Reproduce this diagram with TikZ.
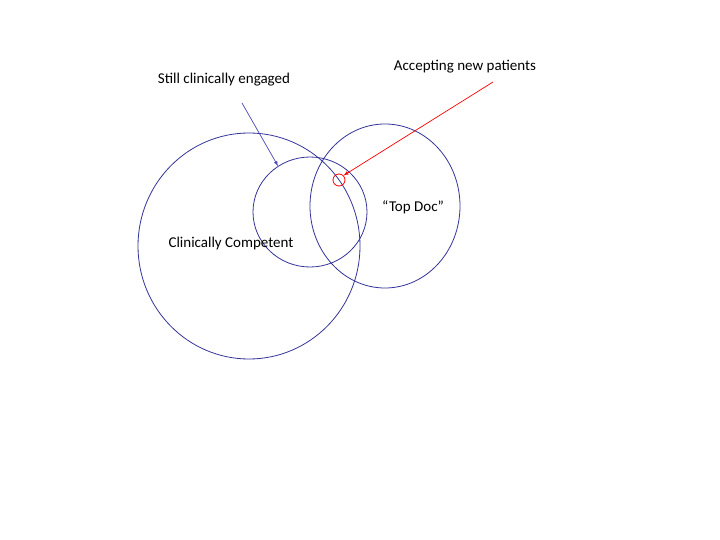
\documentclass[tikz,border=0pt]{standalone}
\usepackage{fontspec}
\setmainfont{Carlito}
\usetikzlibrary{shapes.geometric}
\begin{document}
\begin{tikzpicture}[x=1pt,y=-1pt,
  circ/.style={draw=blue!50!black!80, line width=0.8pt, ellipse, inner sep=0pt},
  lbl/.style={font=\fontsize{15}{18}\selectfont, inner sep=0pt}]
\useasboundingbox (0,0) rectangle (720,540);
\node[circ, minimum width=222pt, minimum height=226pt] (big) at (249,246) {};
\node[circ, minimum width=114pt, minimum height=110pt] (eng) at (310,212) {};
\node[circ, minimum width=150pt, minimum height=164pt] (top) at (385,206) {};
\node[draw=red, circle, minimum size=12pt, inner sep=0pt, line width=0.8pt] (red) at (339,180) {};
\node[lbl] (engl) at (224,80) {Still clinically engaged};
\node[lbl] (acc) at (465,67) {Accepting new patients};
\node[lbl] (cc) at (231,244) {Clinically Competent};
\node[lbl] (td) at (413,207) {“Top Doc”};
\coordinate (a1) at (493,82);
\coordinate (b1) at (242,103);
\coordinate (b2) at (278,166);
\draw[red, -latex, line width=0.7pt] (a1) -- (red.north east);
\draw[blue!60!black!70, -latex, line width=0.7pt] (b1) -- (b2);
\end{tikzpicture}
\end{document}
